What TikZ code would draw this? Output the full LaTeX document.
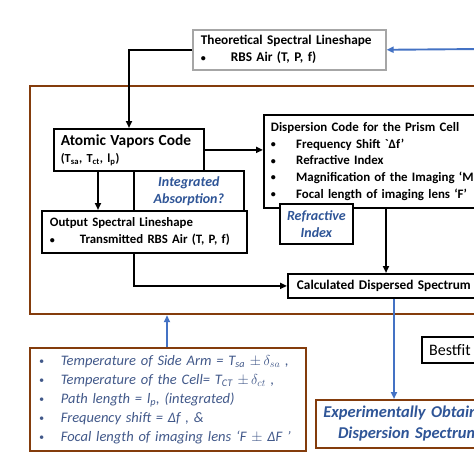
\documentclass[tikz,border=0pt]{standalone}
\usepackage{fontspec}
\setmainfont{Carlito}
\usetikzlibrary{calc,arrows.meta}
\definecolor{brownline}{HTML}{843C0C}
\definecolor{bluearrow}{HTML}{4472C4}
\definecolor{bluetext}{HTML}{2F5597}
\definecolor{paramtext}{HTML}{42598A}
\definecolor{grayline}{HTML}{A6A6A6}
\newcommand\bul[1][30pt]{\makebox[#1][l]{\raisebox{0.1ex}{\fontsize{10}{10}\selectfont\textbullet}}}
\tikzset{
	box/.style={draw, line width=1.8pt, fill=white, anchor=north west, inner xsep=7pt, inner ysep=0pt, align=left, font=\bfseries\fontsize{13.3}{17}\selectfont},
	bluebox/.style={box, align=center, font=\bfseries\itshape\fontsize{14}{17}\selectfont, text=bluetext},
	brownbox/.style={box, draw=brownline, line width=2pt},
	link/.style={line width=1.9pt, -{Triangle[length=7pt,width=6pt]}},
	bluelink/.style={link, draw=bluearrow}
}

\begin{document}
\begin{tikzpicture}[x=1pt, y=-1pt]
	%%%%% START %%%%%
	\clip (0,0) rectangle (474,474);
	\fill[white] (0,0) rectangle (474,474);
	
	% simulation frame
	\node[brownbox, line width=2.2pt, minimum width=500pt, minimum height=228pt] (sim) at (29,85) {};
	
	\node[box, draw=grayline, line width=1.6pt, inner xsep=8pt, text width=177pt, minimum height=40pt] (theo) at (192,29)
		{Theoretical Spectral Lineshape\\ \bul RBS Air (T, P, f)};
	
	\node[box, text width=136pt, minimum height=42pt] (atomic) at (53,128)
		{{\fontsize{15.4}{17}\selectfont Atomic Vapors Code}\\ {\fontsize{12.3}{15}\selectfont (T\textsubscript{sa}, T\textsubscript{ct}, l\textsubscript{p})}};
	\node[bluebox, text width=96pt, minimum height=40pt] (integ) at (133,170) {Integrated\\ Absorption?};
	\node[box, inner xsep=8pt, text width=189pt, minimum height=42pt, font=\bfseries\fontsize{12.8}{17}\selectfont] (output) at (41,210)
		{Output Spectral Lineshape\\ \bul[30pt]\mbox{Transmitted RBS Air (T, P, f)}};
	
	\node[box, text width=246pt, minimum height=93pt, font=\bfseries\fontsize{12.9}{16.7}\selectfont] (disp) at (263,114)
		{Dispersion Code for the Prism Cell\\
		\bul[21pt] Frequency Shift \textasciigrave Δf’\\
		\bul[21pt] Refractive Index\\
		\bul[21pt] Magnification of the Imaging ‘M’\\
		\bul[21pt] Focal length of imaging lens ‘F’};
	\node[bluebox, text width=59pt, minimum height=40pt] (refr) at (279,203) {Refractive\\ Index};
	
	\node[box, inner xsep=9pt, text width=222pt, minimum height=24pt, font=\bfseries\fontsize{13.3}{15}\selectfont] (calc) at (287,273)
		{Calculated Dispersed Spectrum};
	
	\node[brownbox, inner xsep=9pt, text width=258pt, minimum height=103pt, text=paramtext, font=\itshape\fontsize{14.5}{19}\selectfont] (params) at (29,347)
		{\bul[17pt] Temperature of Side Arm = T\textsubscript{sa} $\pm\,\delta_{sa}$ ,\\
		\bul[17pt] Temperature of the Cell= T\textsubscript{CT} $\pm\,\delta_{ct}$ ,\\
		\bul[17pt] Path length = l\textsubscript{p}, (integrated)\\
		\bul[17pt] Frequency shift = Δf , \&\\
		\bul[17pt] Focal length of imaging lens ‘F $\pm$ ΔF ’};
	
	\node[box, line width=2.4pt, text width=66pt, minimum height=26pt, font=\fontsize{16}{18}\selectfont] (bestfit) at (421,336) {Bestfit};
	
	\node[brownbox, align=center, text width=172pt, minimum height=48pt, text=bluetext, font=\bfseries\itshape\fontsize{16.5}{21}\selectfont] (exper) at (315,399)
		{Experimentally Obtained\\ Dispersion Spectrum};
	
	% connectors
	\coordinate (feed) at (480,49);
	\draw[bluelink] (feed) -- (theo.east);
	\draw[link] (theo.west) -| (atomic.north -| 129,0);
	\draw[link] (atomic.east) -- (atomic.east -| disp.west);
	\draw[link] (98,0 |- atomic.south) -- (98,0 |- output.north);
	\draw[link] (134,0 |- output.south) |- (calc.west);
	\draw[link] (386,0 |- disp.south) -- (386,0 |- calc.north);
	\draw[bluelink] (394,0 |- calc.south) -- (394,0 |- exper.north);
	\draw[bluelink] (167,0 |- params.north) -- (167,0 |- sim.south);
	%%%%% END %%%%%
\end{tikzpicture}
\end{document}
